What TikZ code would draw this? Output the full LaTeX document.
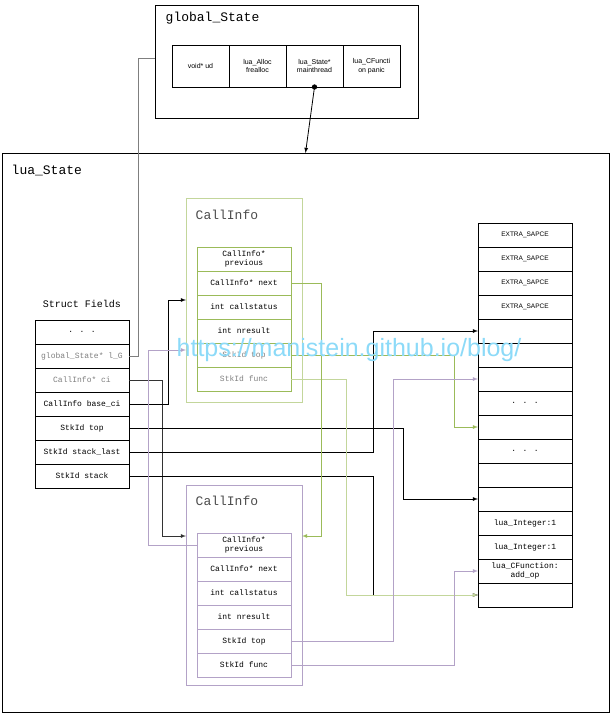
\documentclass[tikz,border=0pt]{standalone}
\usepackage{fontspec}
\usetikzlibrary{positioning}
\newfontfamily\monof{Liberation Mono}
\newfontfamily\sansf{Liberation Sans}
\definecolor{ciGreen}{HTML}{9BBB59}
\definecolor{ciLight}{HTML}{C3D69B}
\definecolor{ciPurple}{HTML}{B3A2C7}
\definecolor{ptrGray}{HTML}{7F7F7F}
\newcommand\stkdots{. . .}

\begin{document}
\begin{tikzpicture}[x=1pt,y=-1pt,>=latex,thick,
  cell/.style={draw,line width=0.8pt,minimum width=94pt,minimum height=24pt,inner sep=0pt,outer sep=0pt,
    font=\monof\fontsize{8}{8.5}\selectfont,align=center,anchor=north west},
  gcell/.style={cell,minimum width=57pt,minimum height=42pt,font=\sansf\fontsize{7}{8.5}\selectfont},
  frame/.style={draw,line width=0.8pt,anchor=north west,inner sep=0pt,outer sep=0pt},
  title/.style={anchor=west,font=\monof\fontsize{13}{13}\selectfont},
  link/.style={line width=0.8pt}]
\useasboundingbox (0,0) rectangle (611,714);

% global_State
\node[frame,minimum width=263pt,minimum height=113pt] (gbox) at (155,5) {};
\node[title] (gtitle) at (162,18) {global\_State};
\node[gcell] (gud) at (172,45) {void* ud};
\node[gcell,right=0pt of gud] (galloc) {lua\_Alloc\\frealloc};
\node[gcell,right=0pt of galloc] (gmain) {lua\_State*\\mainthread};
\node[gcell,right=0pt of gmain] (gpanic) {lua\_CFuncti\\on panic};

% lua_State
\node[frame,minimum width=607pt,minimum height=559pt] (lbox) at (2,153) {};
\node[title] (ltitle) at (8,170) {lua\_State};

% Struct Fields
\node[font=\monof\fontsize{10}{10}\selectfont] (sftitle) at (82,304) {Struct Fields};
\node[cell] (sfdots) at (35,320) {\stkdots};
\node[cell,text=ptrGray,below=0pt of sfdots] (sfG) {global\_State* l\_G};
\node[cell,text=ptrGray,below=0pt of sfG] (sfci) {CallInfo* ci};
\node[cell,below=0pt of sfci] (sfbase) {CallInfo base\_ci};
\node[cell,below=0pt of sfbase] (sftop) {StkId top};
\node[cell,below=0pt of sftop] (sflast) {StkId stack\_last};
\node[cell,below=0pt of sflast] (sfstack) {StkId stack};

% CallInfo (green)
\node[frame,draw=ciLight,minimum width=116pt,minimum height=204pt] (gcall) at (186,198) {};
\node[title,text=black!70] (gctitle) at (192,215) {CallInfo};
\node[cell,draw=ciGreen] (gprev) at (197,247) {CallInfo*\\previous};
\node[cell,draw=ciGreen,below=0pt of gprev] (gnext) {CallInfo* next};
\node[cell,draw=ciGreen,below=0pt of gnext] (gstat) {int callstatus};
\node[cell,draw=ciGreen,below=0pt of gstat] (gnres) {int nresult};
\node[cell,draw=ciGreen,text=ptrGray,below=0pt of gnres] (gtop) {StkId top};
\node[cell,draw=ciGreen,text=ptrGray,below=0pt of gtop] (gfunc) {StkId func};

% CallInfo (purple)
\node[frame,draw=ciPurple,minimum width=116pt,minimum height=200pt] (pcall) at (186,485) {};
\node[title,text=black!70] (pctitle) at (192,501) {CallInfo};
\node[cell,draw=ciPurple] (pprev) at (197,533) {CallInfo*\\previous};
\node[cell,draw=ciPurple,below=0pt of pprev] (pnext) {CallInfo* next};
\node[cell,draw=ciPurple,below=0pt of pnext] (pstat) {int callstatus};
\node[cell,draw=ciPurple,below=0pt of pstat] (pnres) {int nresult};
\node[cell,draw=ciPurple,below=0pt of pnres] (ptop) {StkId top};
\node[cell,draw=ciPurple,below=0pt of ptop] (pfunc) {StkId func};

% stack
\foreach \t [count=\i] in {{},{},{},{},{},{},{},\stkdots,{},\stkdots,{},{},
    lua\_Integer:1,lua\_Integer:1,{lua\_CFunction:\\add\_op},{}}
  \node[cell] (s\i) at (478,199+24*\i) {\t};
\foreach \i in {1,...,4}
  \node[font=\sansf\fontsize{6.5}{7}\selectfont] at (s\i) {EXTRA\_SAPCE};

% links
\filldraw (gmain.south) circle (2.2pt);
\draw[link,->] (gmain.south) -- (lbox.north);
\draw[link,ptrGray] (sfG.east) -| (138,58) -- (gbox.west |- 0,58);
\draw[link,->,black!80] (sfci.east) -| (162,536) -- (pcall.west |- 0,536);
\draw[link,->] (sfbase.east) -| (168,300) -- (gcall.west |- 0,300);
\draw[link,->] (sftop.east) -- (sftop.east -| 403,0) |- (s12.west);
\draw[link,->] (sflast.east) -- (sflast.east -| 373,0) |- (s5.west);
\draw[link,->] (sfstack.east) -- (sfstack.east -| 373,0) |- (s16.west);
\draw[link,->,ciLight] (gfunc.east) -- (gfunc.east -| 346,0) |- (s16.west);
\draw[link,->,ciGreen] (gnext.east) -- (gnext.east -| 321,0) |- (pcall.east |- 0,536);
\draw[link,->,ciGreen] (gtop.east) -- (gtop.east -| 454,0) |- (s9.west);
\draw[link,->,ciPurple] (pprev.west) -- (pprev.west -| 148,0) |- (gcall.west |- 0,350);
\draw[link,->,ciPurple] (ptop.east) -- (ptop.east -| 393,0) |- (s7.west);
\draw[link,->,ciPurple] (pfunc.east) -- (pfunc.east -| 454,0) |- (s15.west);

% watermark
\node[text=cyan!45,font=\sansf\fontsize{25}{25}\selectfont] (mark) at (349,350) {https://manistein.github.io/blog/};
\end{tikzpicture}
\end{document}
